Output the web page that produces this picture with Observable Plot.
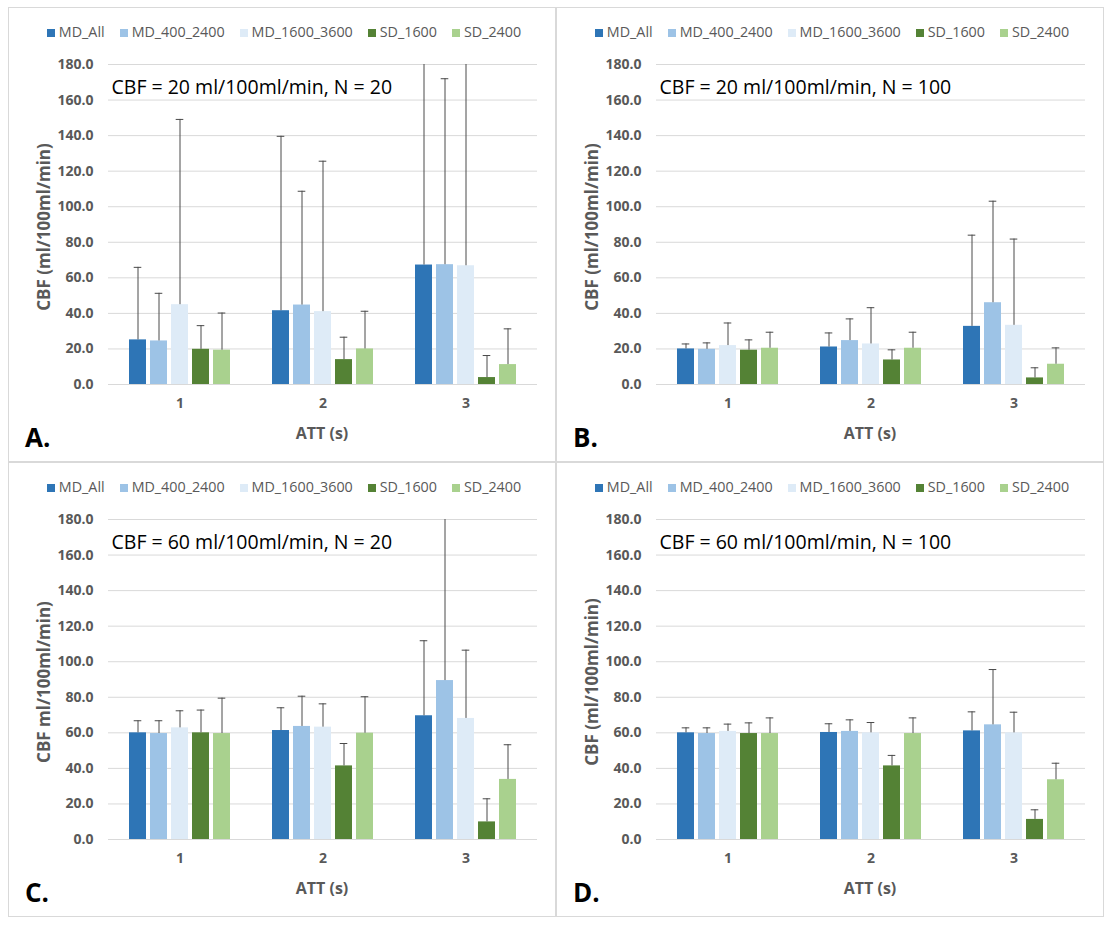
<!DOCTYPE html>
<html><head><meta charset="utf-8">
<script src="https://cdn.jsdelivr.net/npm/d3@7"></script>
<script src="https://cdn.jsdelivr.net/npm/@observablehq/plot@0.6"></script>
<style>
body{margin:0;background:#fff;font-family:'Open Sans',sans-serif;}
#fig{position:relative;width:1109px;height:925px;background:#fff;}
.panel{position:absolute;width:546px;height:453px;border:1px solid #d9d9d9;background:#fff;}
.panel svg{position:absolute;left:0;top:0;overflow:visible;}
.legend{position:absolute;top:15px;left:2px;width:546px;display:flex;justify-content:center;gap:15px;font-size:14.3px;color:#595959;line-height:18px;white-space:nowrap;}
.legend .sw{display:inline-block;width:8px;height:8px;margin-right:4px;vertical-align:0px;}
.ytitle{position:absolute;left:34px;top:219px;transform:translate(-50%,-50%) rotate(-90deg);font-weight:bold;font-size:17px;color:#595959;white-space:nowrap;}
.xtitle{position:absolute;left:313px;top:425px;transform:translate(-50%,-50%);font-weight:bold;font-size:16px;color:#595959;white-space:nowrap;}
.letter{position:absolute;left:16px;top:412px;font-weight:bold;font-size:26px;color:#000;line-height:34px;}
</style></head>
<body><div id="fig"></div>
<script>
const atts = ["1", "2", "3"];
const series = ["MD_All", "MD_400_2400", "MD_1600_3600", "SD_1600", "SD_2400"];
const colors = ["#2E75B6", "#9DC3E6", "#DEEBF7", "#548235", "#A9D18E"];
const yTicks = [0, 20, 40, 60, 80, 100, 120, 140, 160, 180];

// rows: ATT 1, 2, 3; columns: series order
const meanA = [[25.1, 24.5, 44.9, 19.8, 19.3], [41.5, 44.7, 41.0, 14.0, 20.0], [67.2, 67.4, 66.8, 3.9, 11.2]];
const sdA   = [[40.8, 26.8, 104.2, 13.3, 20.9], [98.1, 64.0, 84.6, 12.6, 21.2], [140.0, 104.6, 135.0, 12.4, 20.1]];
const meanB = [[20.0, 19.8, 21.9, 19.3, 20.4], [21.1, 24.7, 22.8, 13.8, 20.4], [32.7, 46.0, 33.3, 3.7, 11.4]];
const sdB   = [[2.8, 3.6, 12.7, 5.8, 9.0], [7.9, 12.2, 20.4, 5.7, 9.0], [51.3, 57.1, 48.5, 5.7, 9.2]];
const meanC = [[60.0, 59.6, 62.8, 60.0, 59.6], [61.3, 63.6, 63.2, 41.4, 59.8], [69.6, 89.4, 68.1, 9.9, 33.8]];
const sdC   = [[6.8, 7.2, 9.6, 12.8, 19.9], [12.8, 17.0, 13.1, 12.6, 20.5], [42.2, 100.0, 38.4, 13.0, 19.5]];
const meanD = [[60.0, 59.6, 60.8, 59.6, 59.6], [60.2, 60.8, 60.0, 41.4, 59.6], [61.1, 64.5, 60.0, 11.3, 33.6]];
const sdD   = [[2.8, 3.2, 4.1, 6.0, 8.8], [4.9, 6.5, 5.8, 5.9, 8.8], [10.7, 31.1, 11.6, 5.4, 9.3]];

const notes = ["CBF = 20 ml/100ml/min, N = 20", "CBF = 20 ml/100ml/min, N = 100", "CBF = 60 ml/100ml/min, N = 20", "CBF = 60 ml/100ml/min, N = 100"];
const yTitles = ["CBF (ml/100ml/min)", "CBF (ml/100ml/min)", "CBF ml/100ml/min)", "CBF (ml/100ml/min)"];
const letters = ["A.", "B.", "C.", "D."];
const xTitle = "ATT (s)";

const panels = [
  {mean: meanA, sd: sdA, left: 8, top: 7},
  {mean: meanB, sd: sdB, left: 556, top: 7},
  {mean: meanC, sd: sdC, left: 8, top: 462},
  {mean: meanD, sd: sdD, left: 556, top: 462}
];

const fig = document.getElementById("fig");
const YMAX = 180;
const ecol = "#4a4a4a";

panels.forEach((p, k) => {
  const rows = [];
  atts.forEach((a, i) => series.forEach((s, j) => rows.push({att: a, series: s, mean: p.mean[i][j], sd: p.sd[i][j]})));
  const div = document.createElement("div");
  div.className = "panel";
  div.style.left = p.left + "px";
  div.style.top = p.top + "px";

  const chart = Plot.plot({
    width: 546, height: 453,
    marginTop: 56, marginBottom: 77, marginLeft: 99, marginRight: 18,
    style: {fontFamily: "'Open Sans', sans-serif", overflow: "visible", background: "transparent"},
    fx: {domain: atts, paddingInner: 0, paddingOuter: 0, axis: null},
    x: {domain: series, paddingInner: 0.21, paddingOuter: 0.87, axis: null},
    y: {domain: [0, YMAX], axis: null},
    color: {domain: series, range: colors},
    marks: [
      Plot.ruleY(yTicks, {stroke: "#d9d9d9", strokeWidth: 1}),
      Plot.axisY({ticks: yTicks, tickFormat: d3.format(".1f"), tickSize: 0, tickPadding: 15, label: null, fontSize: 14, fontWeight: "bold", color: "#595959"}),
      Plot.axisFx({anchor: "bottom", tickSize: 0, tickPadding: 14, label: null, fontSize: 14, fontWeight: "bold", color: "#595959"}),
      Plot.barY(rows, {fx: "att", x: "series", y: "mean", fill: "series"}),
      Plot.ruleX(rows, {fx: "att", x: "series", y1: "mean", y2: d => Math.min(d.mean + d.sd, YMAX), stroke: ecol, strokeWidth: 1}),
      Plot.tickY(rows.filter(d => d.mean + d.sd <= YMAX), {fx: "att", x: "series", y: d => d.mean + d.sd, stroke: ecol, strokeWidth: 1, insetLeft: 4.7, insetRight: 4.7}),
      Plot.text([notes[k]], {fx: () => "1", y: () => 167, text: d => d, frameAnchor: "left", textAnchor: "start", dx: 3, fontSize: 19.5, fill: "#000"})
    ]
  });
  div.appendChild(chart);

  const leg = document.createElement("div");
  leg.className = "legend";
  series.forEach((s, j) => {
    const it = document.createElement("span");
    it.innerHTML = `<span class="sw" style="background:${colors[j]}"></span>${s}`;
    leg.appendChild(it);
  });
  div.appendChild(leg);

  const yt = document.createElement("div");
  yt.className = "ytitle"; yt.textContent = yTitles[k];
  div.appendChild(yt);
  const xt = document.createElement("div");
  xt.className = "xtitle"; xt.textContent = xTitle;
  div.appendChild(xt);
  const lt = document.createElement("div");
  lt.className = "letter"; lt.textContent = letters[k];
  div.appendChild(lt);

  fig.appendChild(div);
});
</script>
</body></html>
